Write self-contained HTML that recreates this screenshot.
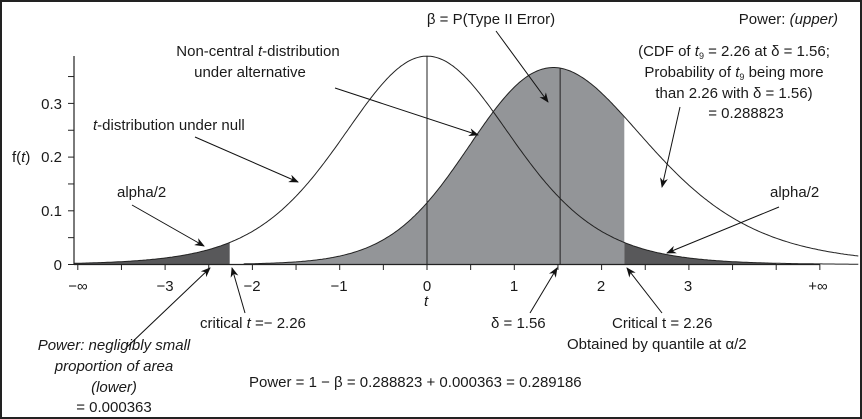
<!DOCTYPE html>
<html><head><meta charset="utf-8"><style>
html,body{margin:0;padding:0;background:#fff;}
svg{display:block;font-family:"Liberation Sans",sans-serif;font-size:15px;fill:#222;}
text{fill:#1a1a1a;}
.i{font-style:italic;}
</style></head><body>
<svg id="s" width="862" height="419" viewBox="0 0 862 419" xmlns="http://www.w3.org/2000/svg">
<defs><marker id="a" markerWidth="10" markerHeight="8" refX="9" refY="4" orient="auto" markerUnits="userSpaceOnUse"><path d="M0,0 L10,4 L0,8 L3,4 z" fill="#111"/></marker></defs>
<rect x="1" y="1" width="860" height="417" fill="#fff" stroke="#222" stroke-width="2"/>
<g id="g"></g>
<line x1="74" y1="56" x2="74" y2="264.5" stroke="#222" stroke-width="1.2"/>
<line x1="74" y1="264.5" x2="820" y2="264.5" stroke="#222" stroke-width="1.2"/>
<g id="ticks" stroke="#222" stroke-width="1"></g>
<g font-size="15">
<text x="62" y="270" text-anchor="end">0</text>
<text x="62" y="216" text-anchor="end">0.1</text>
<text x="62" y="162" text-anchor="end">0.2</text>
<text x="62" y="109" text-anchor="end">0.3</text>
<text x="12" y="162">f(<tspan class="i">t</tspan>)</text>
<text x="78" y="291" text-anchor="middle">−∞</text>
<text x="165" y="291" text-anchor="middle">−3</text>
<text x="252" y="291" text-anchor="middle">−2</text>
<text x="339" y="291" text-anchor="middle">−1</text>
<text x="427" y="291" text-anchor="middle">0</text>
<text x="514" y="291" text-anchor="middle">1</text>
<text x="601" y="291" text-anchor="middle">2</text>
<text x="688" y="291" text-anchor="middle">3</text>
<text x="818" y="291" text-anchor="middle">+∞</text>
<text x="424" y="306" class="i">t</text>

<text x="491" y="24" text-anchor="middle">β = P(Type II Error)</text>
<text x="838" y="24" text-anchor="end">Power: <tspan class="i">(upper)</tspan></text>
<text x="734" y="56" text-anchor="middle">(CDF of <tspan class="i">t</tspan><tspan font-size="9" dy="3">9</tspan><tspan dy="-3"> = 2.26 at δ = 1.56;</tspan></text>
<text x="734" y="77" text-anchor="middle">Probability of <tspan class="i">t</tspan><tspan font-size="9" dy="3">9</tspan><tspan dy="-3"> being more</tspan></text>
<text x="734" y="98" text-anchor="middle">than 2.26 with δ = 1.56)</text>
<text x="746" y="118" text-anchor="middle">= 0.288823</text>

<text x="258" y="56" text-anchor="middle">Non-central <tspan class="i">t</tspan>-distribution</text>
<text x="250" y="77" text-anchor="middle">under alternative</text>
<text x="93" y="130"><tspan class="i">t</tspan>-distribution under null</text>
<text x="117" y="197">alpha/2</text>
<text x="770" y="197">alpha/2</text>

<text x="200" y="328">critical <tspan class="i">t</tspan> =− 2.26</text>
<text x="491" y="328">δ = 1.56</text>
<text x="612" y="328">Critical t = 2.26</text>
<text x="567" y="349">Obtained by quantile at α/2</text>
<text x="114" y="350" text-anchor="middle" class="i">Power: negligibly small</text>
<text x="114" y="371" text-anchor="middle" class="i">proportion of area</text>
<text x="114" y="392" text-anchor="middle" class="i">(lower)</text>
<text x="114" y="412" text-anchor="middle">= 0.000363</text>
<text x="249" y="387">Power = 1 − β = 0.288823 + 0.000363 = 0.289186</text>
</g>
<g stroke="#111" stroke-width="1" fill="none" marker-end="url(#a)">
<line x1="335" y1="88" x2="478" y2="135"/>
<line x1="195" y1="137" x2="298" y2="182"/>
<line x1="132" y1="205" x2="204" y2="246"/>
<line x1="496" y1="31" x2="548" y2="102"/>
<line x1="680" y1="107" x2="662" y2="187"/>
<line x1="779" y1="207" x2="667" y2="253"/>
<line x1="127" y1="347" x2="210" y2="268"/>
<line x1="245" y1="313" x2="232" y2="268"/>
<line x1="530" y1="313" x2="557" y2="268"/>
<line x1="662" y1="313" x2="627" y2="268"/>
</g>
</svg>
<script>
(function(){
var X=function(t){return 427+87.3*t;}, Y=function(f){return 264.5-537*f;};
var c=0.38803;
function ft(t){return c*Math.pow(1+t*t/9,-5);}
var g45=11.63173, norm=Math.pow(2,4.5)*g45;
function nct(t){var d=1.56,s=0,h=0.04;for(var v=h/2;v<70;v+=h){var r=Math.sqrt(v/9);var z=t*r-d;s+=Math.exp(-z*z/2)/Math.sqrt(2*Math.PI)*r*Math.pow(v,3.5)*Math.exp(-v/2)/norm*h;}return s;}
function line(fn,a,b){var p="";for(var t=a;t<=b+1e-9;t+=0.02){p+=(p?"L":"M")+X(t).toFixed(1)+","+Y(fn(t)).toFixed(1);}return p;}
function area(fn,a,b){var p="M"+X(a).toFixed(1)+","+Y(0);for(var t=a;t<=b+1e-9;t+=0.02){p+="L"+X(t).toFixed(1)+","+Y(fn(t)).toFixed(1);}p+="L"+X(b).toFixed(1)+","+Y(fn(b)).toFixed(1)+"L"+X(b).toFixed(1)+","+Y(0)+"Z";return p;}
var g=document.getElementById("g"),ns="http://www.w3.org/2000/svg";
function P(d,fill,stroke){var e=document.createElementNS(ns,"path");e.setAttribute("d",d);e.setAttribute("fill",fill);if(stroke){e.setAttribute("stroke",stroke);e.setAttribute("stroke-width","1");}g.appendChild(e);}
var cache={};function nc(t){var k=t.toFixed(3);if(!(k in cache))cache[k]=nct(t);return cache[k];}
P(area(nc,-2.1,2.26),"#939598");
P(area(ft,-4.04,-2.26),"#58585a");
P(area(ft,2.26,4.0),"#58585a");
P(line(ft,-4.04,4.95),"none","#222");
P(line(nc,-2.1,4.95),"none","#222");
P("M"+X(0)+","+Y(0)+"L"+X(0)+","+Y(ft(0)),"none","#222");
P("M"+X(1.525)+","+Y(0)+"L"+X(1.525)+","+Y(nc(1.525)),"none","#222");
var tk=document.getElementById("ticks");
for(var t=-4;t<=4.51;t+=0.5){var l=document.createElementNS(ns,"line");l.setAttribute("x1",X(t));l.setAttribute("x2",X(t));l.setAttribute("y1",264.5);l.setAttribute("y2",270);tk.appendChild(l);}
for(var v=0;v<=0.36;v+=0.05){var l=document.createElementNS(ns,"line");l.setAttribute("x1",68);l.setAttribute("x2",74);l.setAttribute("y1",Y(v));l.setAttribute("y2",Y(v));tk.appendChild(l);}
})();
</script>
</body></html>
